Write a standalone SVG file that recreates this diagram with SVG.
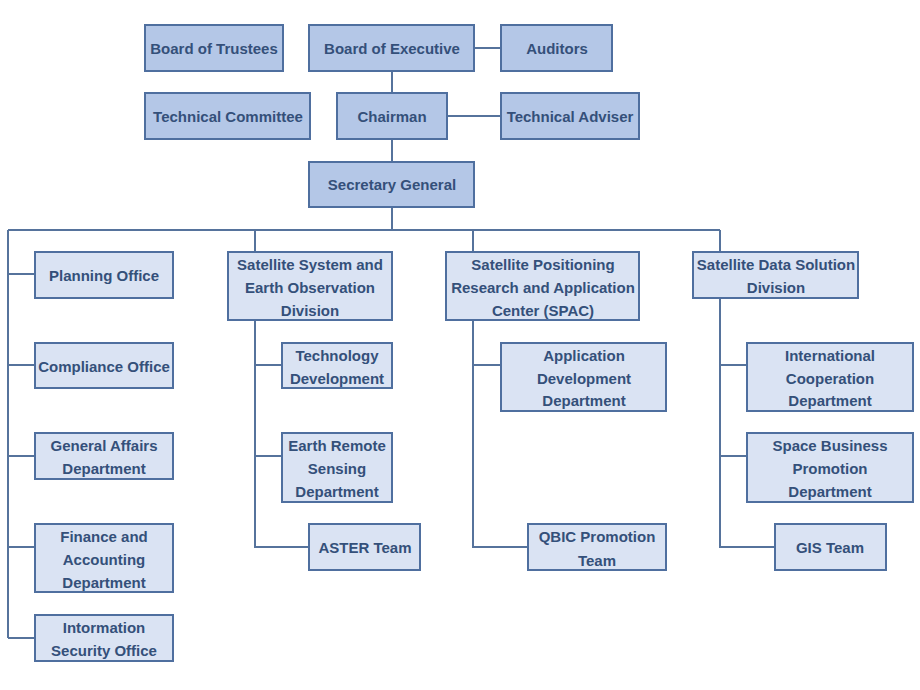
<svg xmlns="http://www.w3.org/2000/svg" width="920" height="690" viewBox="0 0 920 690">
<style>
.top rect{fill:#b4c7e7;stroke:#4f6f9f;stroke-width:2}
.sub rect{fill:#dae3f3;stroke:#4f6f9f;stroke-width:2}
text{font-family:"Liberation Sans",Arial,sans-serif;font-size:15px;font-weight:bold;fill:#34507a;text-anchor:middle;dominant-baseline:central}
.c{fill:none;stroke:#56739c;stroke-width:2}
</style>
<rect width="920" height="690" fill="#fff"/>
<g id="connectors" class="c">
<path d="M474 48H501M447 116H501M392 71V162M392 207V230M8 230H720M8 230V638M255 230V252M473 230V252M720 230V252"/>
<path d="M8 274H35M8 365H35M8 456H35M8 547H35M8 638H35"/>
<path d="M255 320V547H309M255 365H282M255 456H282"/>
<path d="M473 320V547H528M473 365H501"/>
<path d="M720 298V547H775M720 365H747M720 456H747"/>
</g>
<g id="board-of-trustees" class="top"><rect x="145" y="25" width="138" height="46"/><text x="214" y="48">Board of Trustees</text></g>
<g id="board-of-executive" class="top"><rect x="309" y="25" width="165" height="46"/><text x="392" y="48">Board of Executive</text></g>
<g id="auditors" class="top"><rect x="501" y="25" width="111" height="46"/><text x="557" y="48">Auditors</text></g>
<g id="technical-committee" class="top"><rect x="145" y="93" width="165" height="46"/><text x="228" y="116">Technical Committee</text></g>
<g id="chairman" class="top"><rect x="337" y="93" width="110" height="46"/><text x="392" y="116">Chairman</text></g>
<g id="technical-adviser" class="top"><rect x="501" y="93" width="138" height="46"/><text x="570" y="116">Technical Adviser</text></g>
<g id="secretary-general" class="top"><rect x="309" y="162" width="165" height="45"/><text x="392" y="184">Secretary General</text></g>

<g id="planning-office" class="sub"><rect x="35" y="252" width="138" height="46"/><text x="104" y="275">Planning Office</text></g>
<g id="compliance-office" class="sub"><rect x="35" y="343" width="138" height="45"/><text x="104" y="366">Compliance Office</text></g>
<g id="general-affairs" class="sub"><rect x="35" y="433" width="138" height="46"/><text x="104" y="445">General Affairs</text><text x="104" y="468">Department</text></g>
<g id="finance-accounting" class="sub"><rect x="35" y="524" width="138" height="68"/><text x="104" y="536">Finance and</text><text x="104" y="559">Accounting</text><text x="104" y="582">Department</text></g>
<g id="information-security" class="sub"><rect x="35" y="615" width="138" height="46"/><text x="104" y="627">Intormation</text><text x="104" y="650">Security Office</text></g>

<g id="satellite-system-division" class="sub"><rect x="228" y="252" width="164" height="68"/><text x="310" y="264">Satellite System and</text><text x="310" y="287">Earth Observation</text><text x="310" y="310">Division</text></g>
<g id="technology-development" class="sub"><rect x="282" y="343" width="110" height="45"/><text x="337" y="355">Technology</text><text x="337" y="378">Development</text></g>
<g id="earth-remote-sensing" class="sub"><rect x="282" y="433" width="110" height="69"/><text x="337" y="445">Earth Remote</text><text x="337" y="468">Sensing</text><text x="337" y="491">Department</text></g>
<g id="aster-team" class="sub"><rect x="309" y="524" width="111" height="46"/><text x="365" y="547">ASTER Team</text></g>

<g id="spac" class="sub"><rect x="446" y="252" width="193" height="68"/><text x="543" y="264">Satellite Positioning</text><text x="543" y="287">Research and Application</text><text x="543" y="310">Center (SPAC)</text></g>
<g id="application-development" class="sub"><rect x="501" y="343" width="165" height="68"/><text x="584" y="355">Application</text><text x="584" y="378">Development</text><text x="584" y="400">Department</text></g>
<g id="qbic-promotion" class="sub"><rect x="528" y="524" width="138" height="46"/><text x="597" y="536">QBIC Promotion</text><text x="597" y="560">Team</text></g>

<g id="satellite-data-division" class="sub"><rect x="693" y="252" width="165" height="46"/><text x="776" y="264">Satellite Data Solution</text><text x="776" y="287">Division</text></g>
<g id="international-cooperation" class="sub"><rect x="747" y="343" width="166" height="68"/><text x="830" y="355">International</text><text x="830" y="378">Cooperation</text><text x="830" y="400">Department</text></g>
<g id="space-business-promotion" class="sub"><rect x="747" y="433" width="166" height="69"/><text x="830" y="445">Space Business</text><text x="830" y="468">Promotion</text><text x="830" y="491">Department</text></g>
<g id="gis-team" class="sub"><rect x="775" y="524" width="111" height="46"/><text x="830" y="547">GIS Team</text></g>
</svg>
